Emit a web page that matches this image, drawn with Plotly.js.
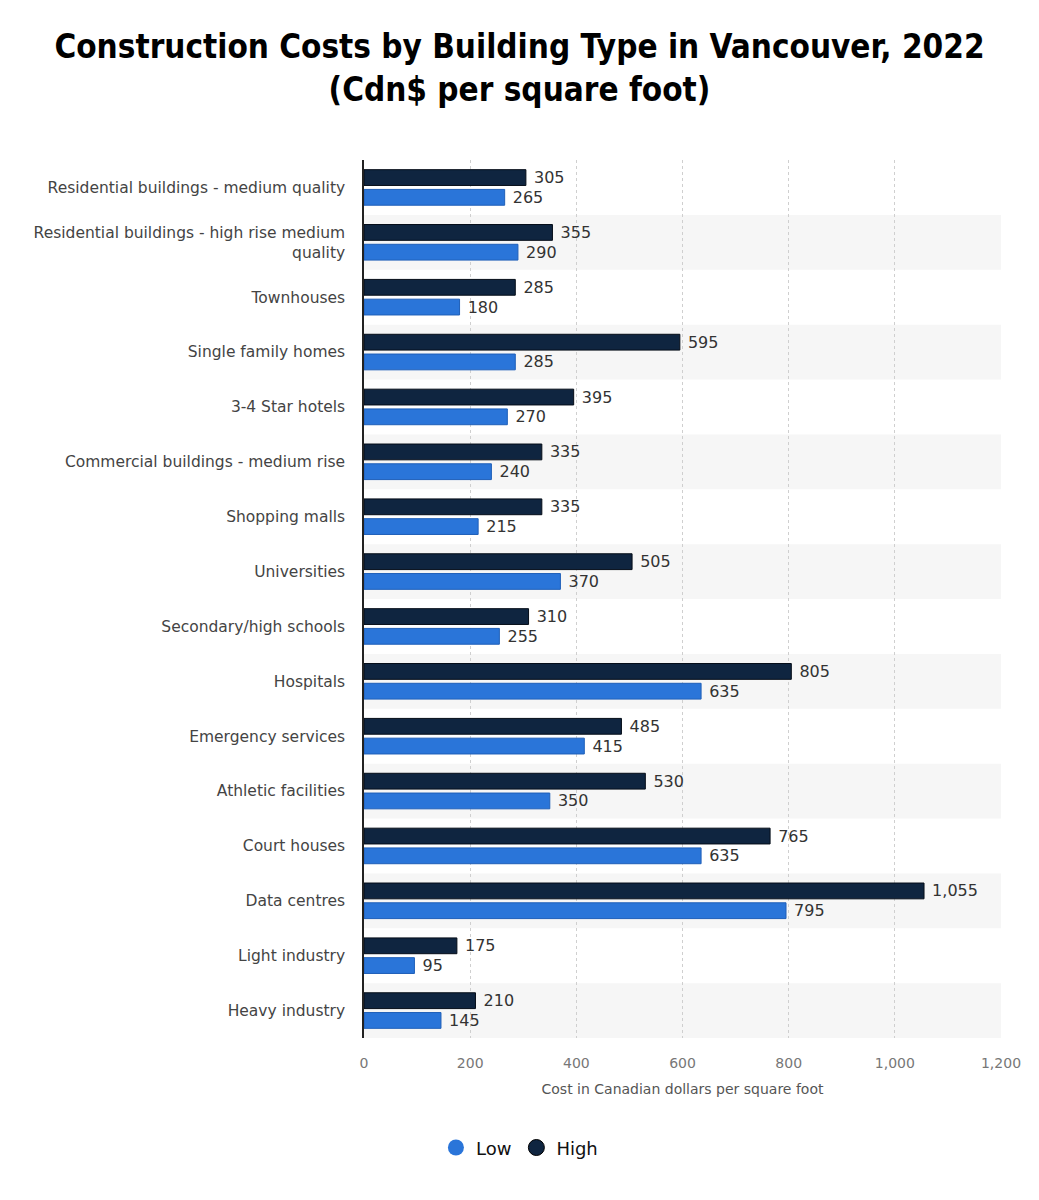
<!DOCTYPE html>
<html>
<head>
<meta charset="utf-8">
<script src="https://cdn.plot.ly/plotly-3.0.1.min.js"></script>
<style>
  html, body { margin: 0; padding: 0; background: #ffffff; }
  #chart { width: 1039px; height: 1200px; }
</style>
</head>
<body>
<div id="chart"></div>
<script>
// Building types, top to bottom
const categories = [
  "Residential buildings - medium quality",
  "Residential buildings - high rise medium<br>quality",
  "Townhouses",
  "Single family homes",
  "3-4 Star hotels",
  "Commercial buildings - medium rise",
  "Shopping malls",
  "Universities",
  "Secondary/high schools",
  "Hospitals",
  "Emergency services",
  "Athletic facilities",
  "Court houses",
  "Data centres",
  "Light industry",
  "Heavy industry"
];

// Cost ranges, Cdn$ per square foot
const highCost = [305, 355, 285, 595, 395, 335, 335, 505, 310, 805, 485, 530, 765, 1055, 175, 210];
const lowCost  = [265, 290, 180, 285, 270, 240, 215, 370, 255, 635, 415, 350, 635, 795, 95, 145];

const xTicks = [0, 200, 400, 600, 800, 1000, 1200];
const xTickLabels = ["0", "200", "400", "600", "800", "1,000", "1,200"];

const highColor = "#0f2540";
const lowColor = "#2a75d9";
const labelFont = { family: "DejaVu Sans, Verdana, sans-serif", size: 16, color: "#333333" };

const barBase = {
  type: "bar",
  orientation: "h",
  y: categories,
  textposition: "outside",
  constraintext: "none",
  texttemplate: " %{x:,}",
  textfont: labelFont,
  cliponaxis: false,
  showlegend: false,
  hoverinfo: "x+y"
};

const traces = [
  Object.assign({}, barBase, {
    name: "High",
    x: highCost,
    marker: { color: highColor, line: { color: "#050d18", width: 1 } }
  }),
  Object.assign({}, barBase, {
    name: "Low",
    x: lowCost,
    marker: { color: lowColor, line: { color: "#1f5fb8", width: 1 } }
  }),
  // Legend entries drawn as round markers
  { type: "scatter", mode: "markers", x: [null], y: [null], name: "Low",
    marker: { symbol: "circle", size: 17, color: lowColor }, showlegend: true },
  { type: "scatter", mode: "markers", x: [null], y: [null], name: "High",
    marker: { symbol: "circle", size: 17, color: highColor, line: { color: "#000", width: 1 } }, showlegend: true }
];

// Alternate row shading
const bands = [];
categories.forEach((c, i) => {
  if (i % 2 === 1) {
    bands.push({
      type: "rect", layer: "below", xref: "paper", yref: "y",
      x0: 0, x1: 1, y0: i - 0.5, y1: i + 0.5,
      fillcolor: "#f6f6f6", line: { width: 0 }
    });
  }
});

const layout = {
  width: 1039,
  height: 1200,
  paper_bgcolor: "#ffffff",
  plot_bgcolor: "#ffffff",
  margin: { l: 364, r: 38, t: 160, b: 162 },
  title: {
    text: "<b>Construction Costs by Building Type in Vancouver, 2022<br>(Cdn$ per square foot)</b>",
    font: { family: "Liberation Sans Narrow, DejaVu Sans Condensed, sans-serif", size: 33, color: "#000000" },
    x: 0.5, xanchor: "center", xref: "container",
    y: 0.952, yanchor: "top"
  },
  barmode: "group",
  bargap: 0.28,
  bargroupgap: 0.2,
  xaxis: {
    range: [0, 1200],
    tickvals: xTicks,
    ticktext: xTickLabels,
    tickangle: 0,
    showgrid: true,
    gridcolor: "#cfcfcf",
    griddash: "dot",
    gridwidth: 1,
    zeroline: false,
    showline: false,
    tickfont: { family: "DejaVu Sans, Verdana, sans-serif", size: 14, color: "#777777" },
    ticks: "outside",
    ticklen: 12,
    tickcolor: "rgba(0,0,0,0)",
    title: {
      text: "Cost in Canadian dollars per square foot",
      font: { family: "DejaVu Sans, Verdana, sans-serif", size: 14, color: "#555555" },
      standoff: 14
    }
  },
  yaxis: {
    type: "category",
    autorange: "reversed",
    showgrid: false,
    zeroline: false,
    showline: true,
    linecolor: "#222222",
    linewidth: 1.5,
    ticks: "",
    ticklabelstandoff: 14,
    tickfont: { family: "DejaVu Sans, Verdana, sans-serif", size: 15.5, color: "#444444" }
  },
  shapes: bands,
  legend: {
    orientation: "h",
    x: 0.244, xanchor: "center",
    y: -0.104, yanchor: "top",
    font: { family: "DejaVu Sans, Verdana, sans-serif", size: 18, color: "#111111" },
    itemwidth: 30
  }
};

Plotly.newPlot("chart", traces, layout, { displayModeBar: false });
</script>
</body>
</html>
